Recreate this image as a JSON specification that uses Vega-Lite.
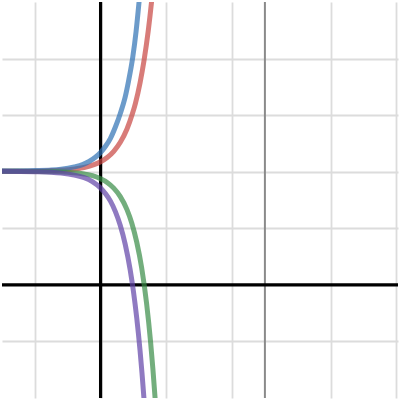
{
  "$schema": "https://vega.github.io/schema/vega-lite/v6.json",
  "width": 400,
  "height": 400,
  "autosize": {"type": "fit", "contains": "padding"},
  "padding": 0,
  "background": "white",
  "config": {"view": {"stroke": null}},
  "datasets": {
    "curves": [
      {"series": "red", "x": -3.2, "y": 2.01},
      {"series": "red", "x": -2.0, "y": 2.01},
      {"series": "red", "x": -1.5, "y": 2.02},
      {"series": "red", "x": -1.0, "y": 2.035},
      {"series": "red", "x": -0.5, "y": 2.075},
      {"series": "red", "x": -0.2, "y": 2.125},
      {"series": "red", "x": 0.0, "y": 2.175},
      {"series": "red", "x": 0.2, "y": 2.25},
      {"series": "red", "x": 0.4, "y": 2.36},
      {"series": "red", "x": 0.6, "y": 2.52},
      {"series": "red", "x": 0.8, "y": 2.75},
      {"series": "red", "x": 0.96, "y": 3.01},
      {"series": "red", "x": 1.06, "y": 3.21},
      {"series": "red", "x": 1.2, "y": 3.57},
      {"series": "red", "x": 1.32, "y": 3.96},
      {"series": "red", "x": 1.45, "y": 4.49},
      {"series": "red", "x": 1.55, "y": 5.0},
      {"series": "red", "x": 1.65, "y": 5.6},
      {"series": "blue", "x": -3.2, "y": 2.01},
      {"series": "blue", "x": -2.0, "y": 2.02},
      {"series": "blue", "x": -1.5, "y": 2.03},
      {"series": "blue", "x": -1.2, "y": 2.045},
      {"series": "blue", "x": -0.8, "y": 2.085},
      {"series": "blue", "x": -0.55, "y": 2.125},
      {"series": "blue", "x": -0.35, "y": 2.18},
      {"series": "blue", "x": -0.15, "y": 2.26},
      {"series": "blue", "x": 0.0, "y": 2.34},
      {"series": "blue", "x": 0.15, "y": 2.45},
      {"series": "blue", "x": 0.3, "y": 2.59},
      {"series": "blue", "x": 0.45, "y": 2.79},
      {"series": "blue", "x": 0.6, "y": 3.03},
      {"series": "blue", "x": 0.74, "y": 3.3},
      {"series": "blue", "x": 0.85, "y": 3.6},
      {"series": "blue", "x": 0.98, "y": 4.03},
      {"series": "blue", "x": 1.08, "y": 4.48},
      {"series": "blue", "x": 1.17, "y": 5.0},
      {"series": "blue", "x": 1.27, "y": 5.65},
      {"series": "green", "x": -3.2, "y": 2.01},
      {"series": "green", "x": -2.0, "y": 2.005},
      {"series": "green", "x": -1.5, "y": 2.0},
      {"series": "green", "x": -1.0, "y": 1.99},
      {"series": "green", "x": -0.5, "y": 1.96},
      {"series": "green", "x": -0.25, "y": 1.93},
      {"series": "green", "x": 0.0, "y": 1.875},
      {"series": "green", "x": 0.2, "y": 1.81},
      {"series": "green", "x": 0.4, "y": 1.71},
      {"series": "green", "x": 0.6, "y": 1.56},
      {"series": "green", "x": 0.8, "y": 1.335},
      {"series": "green", "x": 0.95, "y": 1.09},
      {"series": "green", "x": 1.1, "y": 0.755},
      {"series": "green", "x": 1.25, "y": 0.3},
      {"series": "green", "x": 1.4, "y": -0.33},
      {"series": "green", "x": 1.52, "y": -1.0},
      {"series": "green", "x": 1.67, "y": -2.1},
      {"series": "green", "x": 1.76, "y": -2.95},
      {"series": "purple", "x": -3.2, "y": 2.01},
      {"series": "purple", "x": -2.0, "y": 2.0},
      {"series": "purple", "x": -1.5, "y": 1.99},
      {"series": "purple", "x": -1.2, "y": 1.975},
      {"series": "purple", "x": -0.8, "y": 1.94},
      {"series": "purple", "x": -0.5, "y": 1.895},
      {"series": "purple", "x": -0.25, "y": 1.826},
      {"series": "purple", "x": 0.0, "y": 1.713},
      {"series": "purple", "x": 0.15, "y": 1.61},
      {"series": "purple", "x": 0.3, "y": 1.48},
      {"series": "purple", "x": 0.45, "y": 1.295},
      {"series": "purple", "x": 0.6, "y": 1.05},
      {"series": "purple", "x": 0.75, "y": 0.716},
      {"series": "purple", "x": 0.9, "y": 0.267},
      {"series": "purple", "x": 1.0, "y": -0.117},
      {"series": "purple", "x": 1.1, "y": -0.586},
      {"series": "purple", "x": 1.2, "y": -1.158},
      {"series": "purple", "x": 1.32, "y": -2.01},
      {"series": "purple", "x": 1.4, "y": -2.71}
    ],
    "vlines": [
      {"x": 0, "kind": "axis"},
      {"x": 5, "kind": "major"}
    ],
    "hlines": [
      {"y": 0, "kind": "axis"}
    ]
  },
  "layer": [
    {
      "data": {"name": "vlines"},
      "transform": [{"filter": "datum.kind === 'major'"}],
      "mark": {"type": "rule", "color": "#8a8a8a", "strokeWidth": 2},
      "encoding": {
        "x": {
          "field": "x", "type": "quantitative",
          "scale": {"domain": [-3, 9.05], "nice": false, "zero": false},
          "axis": {"grid": true, "values": [-2, -1, 0, 1, 2, 3, 4, 6, 7, 8, 9], "labels": false, "ticks": false, "domain": false, "title": null, "gridColor": "#dcdcdc", "gridWidth": 1.8}
        }
      }
    },
    {
      "data": {"name": "hlines"},
      "mark": {"type": "rule", "color": "#000000", "strokeWidth": 3.2},
      "encoding": {
        "y": {
          "field": "y", "type": "quantitative",
          "scale": {"domain": [-2, 5], "nice": false, "zero": false},
          "axis": {"grid": true, "values": [-1, 1, 2, 3, 4], "labels": false, "ticks": false, "domain": false, "title": null, "gridColor": "#dcdcdc", "gridWidth": 1.8}
        }
      }
    },
    {
      "data": {"name": "vlines"},
      "transform": [{"filter": "datum.kind === 'axis'"}],
      "mark": {"type": "rule", "color": "#000000", "strokeWidth": 3.2},
      "encoding": {
        "x": {"field": "x", "type": "quantitative"}
      }
    },
    {
      "data": {"name": "curves"},
      "mark": {"type": "line", "strokeWidth": 5, "opacity": 0.7, "interpolate": "monotone", "clip": true},
      "encoding": {
        "x": {"field": "x", "type": "quantitative"},
        "y": {"field": "y", "type": "quantitative"},
        "color": {
          "field": "series", "type": "nominal",
          "scale": {"domain": ["red", "blue", "green", "purple"], "range": ["#c74440", "#2d70b3", "#388c46", "#6042a6"]},
          "legend": null
        },
        "order": {"field": "x", "type": "quantitative"}
      }
    }
  ]
}
